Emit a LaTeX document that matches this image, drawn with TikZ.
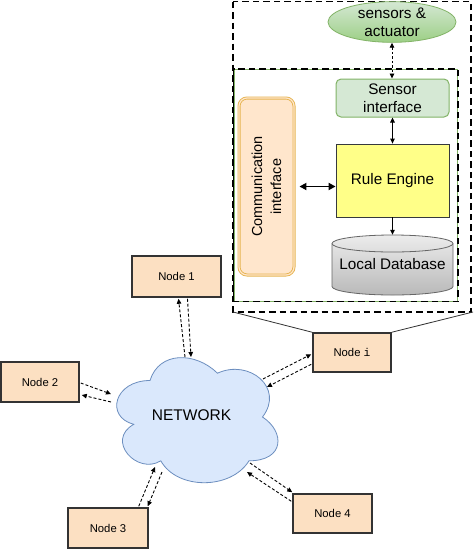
\documentclass[tikz,border=0pt]{standalone}
\usepackage{fontspec}
\setmainfont{Liberation Sans}
\setmonofont{Liberation Mono}
\usetikzlibrary{arrows.meta,calc,shapes.geometric}
\definecolor{nodefill}{HTML}{FCE0C2}
\definecolor{nodeline}{HTML}{333333}
\definecolor{cloudfill}{HTML}{DAE8FC}
\definecolor{cloudline}{HTML}{6C8EBF}
\definecolor{greenfill}{HTML}{D5E8D4}
\definecolor{greenline}{HTML}{82B366}
\definecolor{greendark}{HTML}{9CCF85}
\definecolor{yellowfill}{HTML}{FFFF88}
\definecolor{yellowline}{HTML}{36393D}
\definecolor{orangefill}{HTML}{FFE6CC}
\definecolor{orangeline}{HTML}{E6B450}
\definecolor{dbline}{HTML}{666666}
\tikzset{
  netnode/.style={draw=nodeline, line width=1.5pt, fill=nodefill, minimum width=79pt, minimum height=40pt, inner sep=0pt, font=\fontsize{11.3}{13}\selectfont},
  linkd/.style={line width=0.9pt, dash pattern=on 3pt off 2pt, -{Triangle[length=5pt,width=4.5pt]}},
  boxdash/.style={line width=1.4pt, dash pattern=on 6.5pt off 4pt},
  bigfont/.style={font=\fontsize{15.3}{18}\selectfont, align=center},
  tip/.style={-{Triangle[length=5pt,width=4.5pt]}},
  dtip/.style={{Triangle[length=5pt,width=4.5pt]}-{Triangle[length=5pt,width=4.5pt]}}
}
\begin{document}
\begin{tikzpicture}[x=1pt,y=-1pt]
\useasboundingbox (0,0) rectangle (474,550);
\fill[white] (0,0) rectangle (474,550);

% cloud
\draw[fill=cloudfill, draw=cloudline, line width=0.8pt]
  (150,380.5) .. controls (114,380.5) and (105,417) .. (133.8,424.3)
  .. controls (105,440.4) and (137.4,475.4) .. (160.8,460.8)
  .. controls (177,490) and (231,490) .. (249,460.8)
  .. controls (285,460.8) and (285,431.6) .. (262.5,417)
  .. controls (285,387.8) and (249,358.6) .. (217.5,373.2)
  .. controls (195,351.3) and (159,351.3) .. (150,380.5) -- cycle;
\node[font=\fontsize{15.5}{18}\selectfont] (net) at (191.5,415) {NETWORK};

% outer and inner dashed boxes
\draw[boxdash] (233,1.5) rectangle (471,312);
\draw[greenline, line width=0.5pt] (234,69.5) rectangle (457.5,301);
\draw[boxdash] (233.5,69) rectangle (458,301.5);

% nodes
\node[netnode, minimum width=89pt, minimum height=41pt] (n1) at (176.5,276.5) {Node 1};
\node[netnode, minimum width=78pt] (n2) at (40,382) {Node 2};
\node[netnode, minimum width=80pt] (n3) at (108,528) {Node 3};
\node[netnode, minimum height=39pt] (n4) at (332.5,513.5) {Node 4};
\node[netnode, minimum width=78pt, minimum height=39pt] (ni) at (352,352.5) {Node \texttt{i}};

% trapezoid
\coordinate (tl) at (233,312);
\coordinate (tr) at (473,312);
\draw[nodeline, line width=0.8pt] (tl) -- (ni.north west);
\draw[nodeline, line width=0.8pt] (tr) -- (ni.north east);

% cloud coordinates
\coordinate (c1a) at (185,357);
\coordinate (c1b) at (191,357);
\coordinate (c2a) at (111,394);
\coordinate (c2b) at (111,402);
\coordinate (c3a) at (155,467);
\coordinate (c3b) at (162,472);
\coordinate (c4a) at (250,463);
\coordinate (c4b) at (247,472);
\coordinate (cia) at (263,379);
\coordinate (cib) at (267,387);

% connectors
\draw[linkd] (c1a) -- ($(n1.south)+(2,1)$);
\draw[linkd] ($(n1.south)+(11,1)$) -- (c1b);
\draw[linkd] ($(n2.east)+(1,1)$) -- (c2a);
\draw[linkd] (c2b) -- ($(n2.east)+(2,13)$);
\draw[linkd] ($(n3.north east)+(-10,-1)$) -- (c3a);
\draw[linkd] (c3b) -- ($(n3.north east)+(-1,-1)$);
\draw[linkd] (c4a) -- ($(n4.north west)+(0,-1)$);
\draw[linkd] ($(n4.north west)+(-1,8)$) -- (c4b);
\draw[linkd] (cia) -- ($(ni.north west)+(-1,22)$);
\draw[linkd] ($(ni.north west)+(-1,32)$) -- (cib);

% internal components
\node[ellipse, draw=greenline, line width=0.8pt, top color=greenfill, bottom color=greendark, minimum width=128pt, minimum height=40pt, inner sep=0pt, bigfont] (sa) at (392,22) {sensors \&\\actuator};
\node[draw=greenline, line width=1pt, fill=greenfill, rounded corners=5pt, minimum width=113pt, minimum height=38pt, inner sep=0pt, bigfont] (si) at (392.5,98) {Sensor\\interface};
\node[draw=yellowline, line width=0.8pt, fill=yellowfill, minimum width=113pt, minimum height=73pt, inner sep=0pt, bigfont] (re) at (392.5,180.5) {Rule Engine};
\node[draw=orangeline, line width=0.9pt, double=orangefill, double distance=1.2pt, fill=orangefill, rounded corners=8pt, minimum width=55pt, minimum height=177pt, inner sep=0pt] (ci) at (266.5,186.5) {};
\node[rotate=90, font=\fontsize{14.5}{19}\selectfont, align=center] (citext) at (ci.center) {Communication\\interface};

% database cylinder
\shade[top color=gray!15, bottom color=gray!55, draw=dbline, line width=0.8pt]
  (332,243.5) -- (332,286.5) arc[start angle=180, end angle=360, x radius=60.5pt, y radius=8.5pt]
  -- (453,243.5) arc[start angle=0, end angle=180, x radius=60.5pt, y radius=8.5pt] -- cycle;
\draw[dbline, line width=0.8pt] (332,243.5) arc[start angle=180, end angle=360, x radius=60.5pt, y radius=8.5pt];
\node[minimum width=121pt, minimum height=60pt, inner sep=0pt] (db) at (392.5,265) {};
\node[bigfont] (dbtext) at (392.5,264) {Local Database};

% internal arrows
\draw[dtip, line width=0.9pt, dash pattern=on 2.5pt off 2pt] (sa.south) -- (sa.south |- si.north);
\draw[dtip, line width=0.9pt] (si.south) -- (si.south |- re.north);
\draw[{Triangle[length=7pt,width=7pt]}-{Triangle[length=7pt,width=7pt]}, line width=1.8pt] ($(ci.east)+(5,0)$) -- (ci.east -| re.west);
\draw[tip, line width=1.2pt] (re.south) -- (re.south |- db.north);
\end{tikzpicture}
\end{document}
